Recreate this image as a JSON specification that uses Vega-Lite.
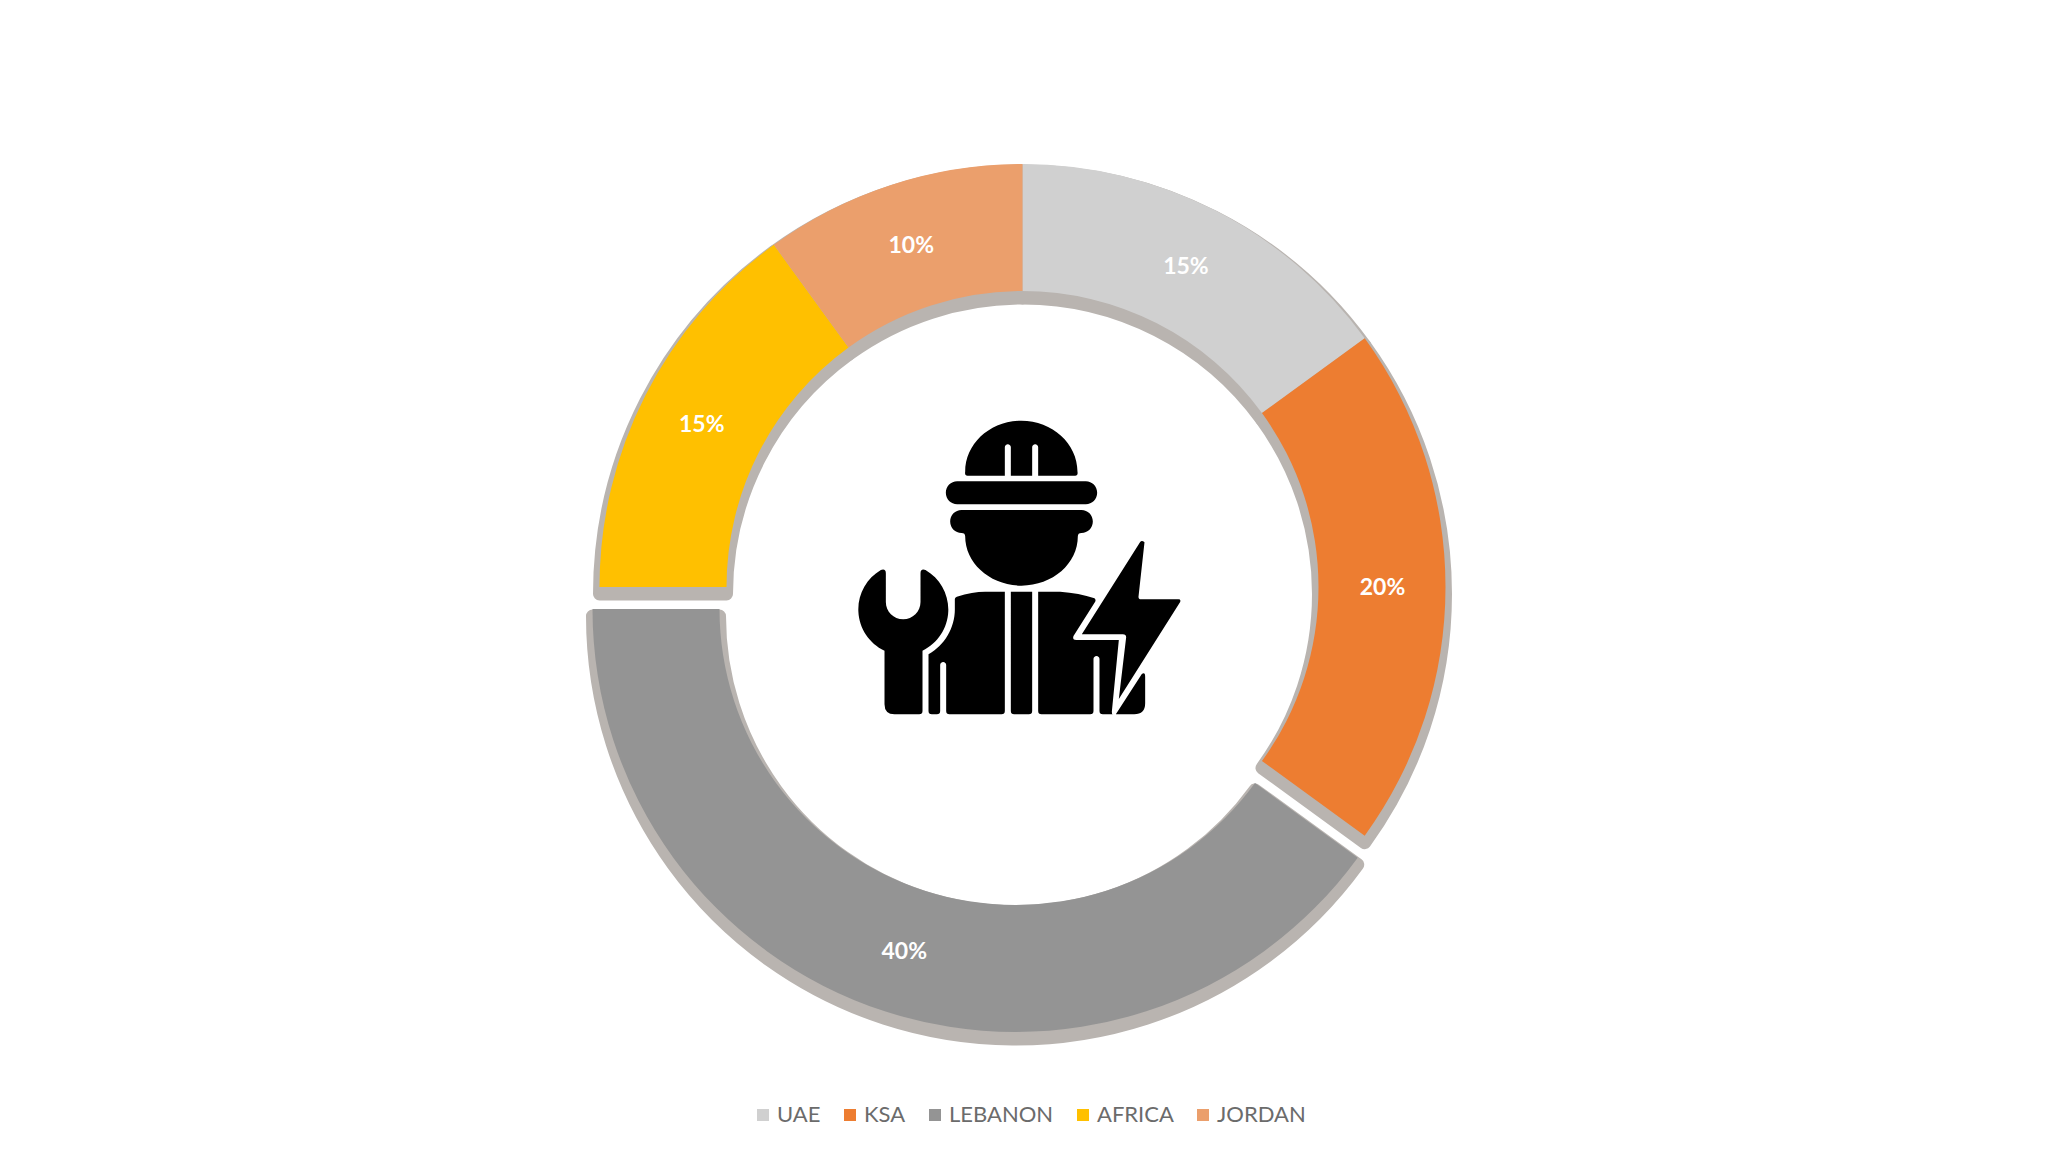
{"$schema":"https://vega.github.io/schema/vega-lite/v6.json","width":2045,"height":1126,"padding":{"top":24,"left":0,"right":0,"bottom":0},"autosize":"none","background":"white","config":{"view":{"stroke":null}},"data":{"values":[{"region":"UAE","share":0.15,"seq":1},{"region":"KSA","share":0.20,"seq":2},{"region":"LEBANON","share":0.40,"seq":3},{"region":"AFRICA","share":0.15,"seq":4},{"region":"JORDAN","share":0.10,"seq":5}]},"layer":[{"transform":[{"stack":"share","sort":[{"field":"seq"}],"as":["start","end"]},{"filter":"datum.region !== 'LEBANON'"}],"mark":{"type":"arc","radius":423,"radius2":296,"yOffset":7,"fill":"#b9b4b0","stroke":"#b9b4b0","strokeWidth":13,"strokeJoin":"round"},"encoding":{"theta":{"field":"start","type":"quantitative","scale":{"domain":[0,1],"range":[0,6.283185]}},"theta2":{"field":"end"}}},{"mark":{"type":"arc","radius":423,"radius2":296,"stroke":null},"transform":[{"stack":"share","sort":[{"field":"seq"}],"as":["start","end"]},{"filter":"datum.region !== 'LEBANON'"}],"encoding":{"theta":{"field":"start","type":"quantitative","scale":{"domain":[0,1],"range":[0,6.283185]}},"theta2":{"field":"end"},"color":{"field":"region","type":"nominal","scale":{"domain":["UAE","KSA","LEBANON","AFRICA","JORDAN"],"range":["#D0D0D0","#ED7D31","#949494","#FFC000","#EB9F6C"]},"legend":{"orient":"none","legendX":752,"legendY":1080,"direction":"horizontal","columns":5,"title":null,"symbolType":"square","symbolSize":144,"symbolStrokeWidth":0,"labelFont":"Lato","labelFontSize":22,"labelColor":"#6b6b6b","labelOffset":3,"columnPadding":18}}}},{"transform":[{"stack":"share","sort":[{"field":"seq"}],"as":["start","end"]},{"filter":"datum.region === 'LEBANON'"}],"mark":{"type":"arc","radius":423,"radius2":296,"xOffset":-7,"yOffset":29,"fill":"#b9b4b0","stroke":"#b9b4b0","strokeWidth":13,"strokeJoin":"round"},"encoding":{"theta":{"field":"start","type":"quantitative","scale":{"domain":[0,1],"range":[0,6.283185]}},"theta2":{"field":"end"}}},{"transform":[{"stack":"share","sort":[{"field":"seq"}],"as":["start","end"]},{"filter":"datum.region === 'LEBANON'"}],"mark":{"type":"arc","radius":423,"radius2":296,"xOffset":-7,"yOffset":22,"stroke":null},"encoding":{"theta":{"field":"start","type":"quantitative","scale":{"domain":[0,1],"range":[0,6.283185]}},"theta2":{"field":"end"},"color":{"field":"region","type":"nominal"}}},{"mark":{"type":"text","radius":360,"yOffset":1,"font":"Lato","fontWeight":"bold","fontSize":23,"color":"white"},"encoding":{"theta":{"field":"share","type":"quantitative","stack":true,"scale":{"domain":[0,1],"range":[0,6.283185]}},"order":{"field":"seq","type":"quantitative"},"text":{"condition":{"test":"datum.region === 'LEBANON'","value":""},"field":"share","type":"quantitative","format":".0%"}}},{"mark":{"type":"text","radius":360,"xOffset":-7,"yOffset":23,"font":"Lato","fontWeight":"bold","fontSize":23,"color":"white"},"encoding":{"theta":{"field":"share","type":"quantitative","stack":true,"scale":{"domain":[0,1],"range":[0,6.283185]}},"order":{"field":"seq","type":"quantitative"},"text":{"condition":{"test":"datum.region !== 'LEBANON'","value":""},"field":"share","type":"quantitative","format":".0%"}}},{"transform":[{"filter":"datum.seq === 1"}],"mark":{"type":"point","filled":true,"opacity":1,"size":0.4444,"color":"black","strokeWidth":0,"shape":"M -165 -334 Q -174 -334 -172 -346 A 168.5 153 0 0 1 165 -346 Q 167 -334 158 -334 L 47 -334 L 47 -419 A 9 9 0 0 0 29 -419 L 29 -334 L -35 -334 L -35 -419 A 9 9 0 0 0 -53 -419 L -53 -334 Z M -196 -317 L 190 -317 A 34 34.5 0 0 1 190 -248 L -196 -248 A 34 34.5 0 0 1 -196 -317 Z M -183 -231 L 177 -231 A 34 34.5 0 0 1 177 -162 Q 166 -162 166 -152 A 169 148 0 0 1 -172 -152 Q -172 -162 -183 -162 A 34 34.5 0 0 1 -183 -231 Z M -410 -41 L -410 45 A 52 52 0 0 0 -306 45 L -306 -41 Q -306 -56 -291 -51 A 137 137 0 0 1 -300 191 L -300 372 Q -300 382 -310 382 L -384 382 Q -414 382 -414 352 L -414 191 A 137 137 0 0 1 -425 -51 Q -410 -56 -410 -41 Z M -203 36 Q -203 31 -197 29 Q -150 14 -112 14 L -53 14 L -53 372 Q -53 382 -63 382 L -219 382 Q -229 382 -229 372 L -229 234 A 9 9 0 0 0 -247 234 L -247 372 Q -247 382 -257 382 L -272 382 Q -282 382 -282 372 L -282 202 A 155 155 0 0 0 -203 64 Z M -35 14 L 29 14 L 29 372 Q 29 382 19 382 L -25 382 Q -35 382 -35 372 Z M 47 14 L 113 14 Q 170 18 216 34 Q 221 38 218 44 L 153 147 Q 149 159 161 159 L 289 159 L 268 374 Q 268 382 271 382 L 241 382 Q 231 382 231 372 L 231 216 A 9 9 0 0 0 213 216 L 213 372 Q 213 382 203 382 L 57 382 Q 47 382 47 372 Z M 178 142 L 353 -135 Q 358 -141 366 -134 L 348 29 Q 348 37 356 37 L 468 37 Q 476 37 473 45 L 289 336 L 311 151 Q 311 142 301 142 Z M 358 261 Q 368 254 368 269 L 368 349 Q 368 382 335 382 L 280 382 Z"}}]}
